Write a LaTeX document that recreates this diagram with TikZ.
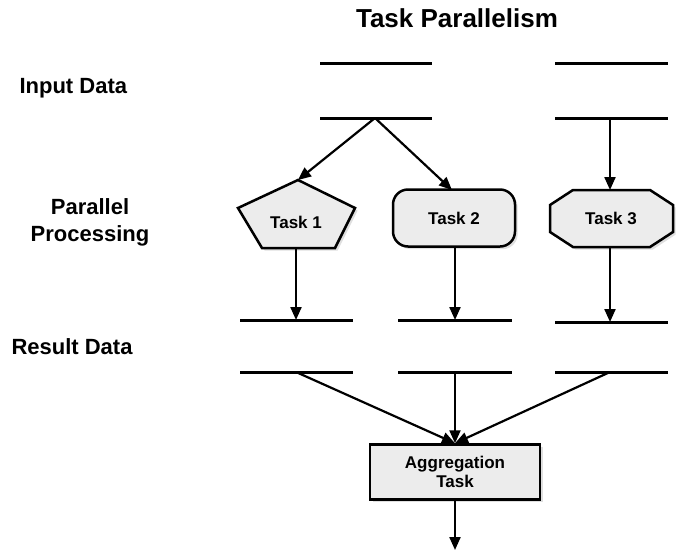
\documentclass[tikz,border=0pt]{standalone}
\usepackage{fontspec}
\setmainfont{Liberation Sans}
\usetikzlibrary{shapes.geometric,shadows,arrows.meta}
\begin{document}
\begin{tikzpicture}[x=1pt,y=-1pt,
  bar/.style={line width=3pt},
  arr/.style={line width=2.2pt,-{Triangle[length=13pt,width=11pt]}},
  lbl/.style={font=\bfseries\fontsize{22}{27}\selectfont},
  tf/.style={font=\bfseries\fontsize{17}{19}\selectfont},
  tsk/.style={draw,line width=2.5pt,fill=gray!15,drop shadow={opacity=0.25}}]
\useasboundingbox (0,0) rectangle (685,555);
\node[font=\bfseries\fontsize{26}{28}\selectfont] (title) at (457,18) {Task Parallelism};
\node[lbl,anchor=west] (lin) at (16,88) {Input Data};
\node[lbl,align=center] (lpp) at (90,222) {Parallel\\Processing};
\node[lbl,anchor=west] (lrd) at (8,347) {Result Data};
% input bars
\draw[bar] (320,63) -- (432,63); \draw[bar] (555,63) -- (668,63);
\draw[bar] (320,118) -- (432,118); \draw[bar] (555,118) -- (668,118);
\coordinate (s1) at (375,118); \coordinate (s3) at (610,118);
% tasks
\draw[tsk] (298,180) -- (355,208) -- (335,248) -- (262,248) -- (238,208) -- cycle;
\node[tf] (t1) at (296,222) {Task 1};
\coordinate (t1t) at (298,180); \coordinate (t1b) at (296,248);
\node[tsk,tf,rounded corners=15pt,minimum width=122pt,minimum height=57pt] (t2) at (454,218) {Task 2};
\coordinate (t2t) at (452,190); \coordinate (t2b) at (455,247);
\draw[tsk] (573,190) -- (650,190) -- (673,205) -- (673,232) -- (650,247) -- (573,247) -- (550,232) -- (550,205) -- cycle;
\node[tf] (t3) at (611,218) {Task 3};
\coordinate (t3t) at (610,190); \coordinate (t3b) at (610,247);
\draw[arr] (s1) -- (t1t);
\draw[arr] (s1) -- (t2t);
\draw[arr] (s3) -- (t3t);
% result bars
\draw[bar] (240,320) -- (353,320); \draw[bar] (398,320) -- (512,320); \draw[bar] (555,322) -- (668,322);
\draw[bar] (240,372) -- (353,372); \draw[bar] (398,372) -- (512,372); \draw[bar] (555,372) -- (668,372);
\coordinate (r1) at (296,320); \coordinate (r2) at (455,320); \coordinate (r3) at (610,322);
\draw[arr] (t1b) -- (r1);
\draw[arr] (t2b) -- (r2);
\draw[arr] (t3b) -- (r3);
\coordinate (q1) at (296,372); \coordinate (q2) at (455,372); \coordinate (q3) at (610,372);
\node[tsk,tf,rectangle,minimum width=170pt,minimum height=55pt,align=center,inner sep=2pt] (ag) at (455,472) {Aggregation\\Task};
\draw[arr] (q1) -- (ag.north);
\draw[arr] (q2) -- (ag.north);
\draw[arr] (q3) -- (ag.north);
\coordinate (out) at (455,550);
\draw[arr] (ag.south) -- (out);
\end{tikzpicture}
\end{document}
